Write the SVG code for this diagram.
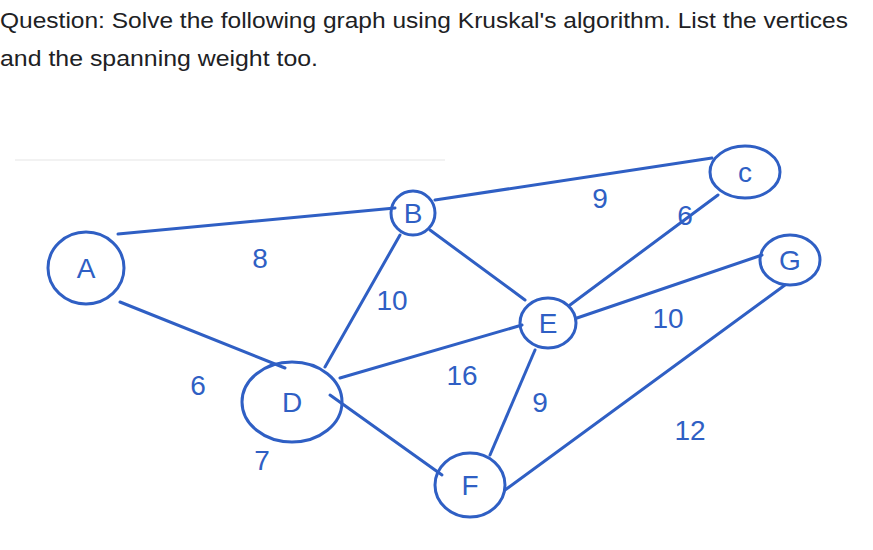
<svg xmlns="http://www.w3.org/2000/svg" width="873" height="550" viewBox="0 0 873 550">
<style>
.q{font-family:"Liberation Sans",Arial,sans-serif;font-size:22px;fill:#202124}
.n ellipse{fill:none;stroke:#2f5fc4;stroke-width:3}
.n text,.l{font-family:"Liberation Sans",Arial,sans-serif;font-size:28px;fill:#2f5fc4;text-anchor:middle}
#edges line{stroke:#2f5fc4;stroke-width:3;stroke-linecap:round}
</style>
<rect width="873" height="550" fill="#fff"/>
<text class="q" x="0" y="28" textLength="848" lengthAdjust="spacingAndGlyphs">Question: Solve the following graph using Kruskal's algorithm. List the vertices</text>
<text class="q" x="0" y="66" textLength="318" lengthAdjust="spacingAndGlyphs">and the spanning weight too.</text>
<line x1="15" y1="160" x2="445" y2="160" stroke="#eee" stroke-width="1.5"/>
<g id="edges">
<line x1="118" y1="234" x2="395" y2="208"/>
<line x1="120" y1="302" x2="285" y2="368"/>
<line x1="435" y1="200" x2="712" y2="158"/>
<line x1="430" y1="230" x2="525" y2="300"/>
<line x1="400" y1="235" x2="325" y2="367"/>
<line x1="570" y1="305" x2="718" y2="195"/>
<line x1="577" y1="318" x2="762" y2="255"/>
<line x1="340" y1="378" x2="522" y2="325"/>
<line x1="330" y1="395" x2="442" y2="475"/>
<line x1="535" y1="350" x2="490" y2="455"/>
<line x1="505" y1="490" x2="785" y2="285"/>
</g>
<g id="labels">
<text class="l" x="260" y="268">8</text>
<text class="l" x="198" y="395">6</text>
<text class="l" x="600" y="208">9</text>
<text class="l" x="392" y="310">10</text>
<text class="l" x="685" y="225">6</text>
<text class="l" x="668" y="328">10</text>
<text class="l" x="462" y="385">16</text>
<text class="l" x="262" y="470">7</text>
<text class="l" x="540" y="412">9</text>
<text class="l" x="690" y="440">12</text>
</g>
<g id="A" class="n"><ellipse cx="86" cy="268" rx="38" ry="36"/><text x="86" y="278">A</text></g>
<g id="B" class="n"><ellipse cx="413" cy="213" rx="22" ry="22"/><text x="413" y="223">B</text></g>
<g id="C" class="n"><ellipse cx="745" cy="172" rx="35" ry="26"/><text x="745" y="182">c</text></g>
<g id="G" class="n"><ellipse cx="790" cy="260" rx="30" ry="25"/><text x="790" y="270">G</text></g>
<g id="E" class="n"><ellipse cx="548" cy="323" rx="28" ry="25"/><text x="548" y="333">E</text></g>
<g id="D" class="n"><ellipse cx="292" cy="402" rx="50" ry="40"/><text x="292" y="412">D</text></g>
<g id="F" class="n"><ellipse cx="470" cy="485" rx="35" ry="32"/><text x="470" y="495">F</text></g>
</svg>
